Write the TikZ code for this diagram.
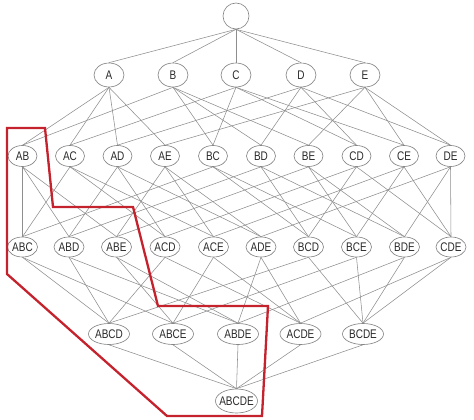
\documentclass[tikz,border=0pt]{standalone}
\usepackage{fontspec}
\newfontfamily\nodefont[FakeStretch=0.8]{Liberation Sans}
\usetikzlibrary{shapes.geometric}
\definecolor{edgegray}{HTML}{8E8E8E}
\definecolor{bordergray}{HTML}{858585}
\definecolor{txtgray}{HTML}{2A2A2A}
\definecolor{cutred}{HTML}{C4222C}
\newcommand{\nlab}[1]{\makebox[0pt]{\raisebox{-0.5\height}[0pt][0pt]{#1}}}
\begin{document}
\begin{tikzpicture}[x=1pt,y=-1pt,
  setnode/.style={ellipse,draw=bordergray,line width=0.65pt,inner sep=0pt,
    text=txtgray,font=\nodefont\fontsize{12.5}{13}\selectfont},
  lone/.style={setnode,minimum width=30pt,minimum height=24pt},
  ltwo/.style={setnode,minimum width=29pt,minimum height=21pt},
  lthree/.style={setnode,minimum width=30pt,minimum height=20pt},
  lfour/.style={setnode,minimum width=41pt,minimum height=21pt},
  lfive/.style={setnode,minimum width=42pt,minimum height=24pt},
  link/.style={draw=edgegray,line width=0.55pt},
  cut/.style={draw=cutred,line width=2.3pt,line join=miter}]
\useasboundingbox (0,0) rectangle (474,420);
% top
\node[circle,draw=bordergray,line width=0.65pt,minimum size=26pt,inner sep=0pt] (top) at (236,16) {};
% level 1
\node[lone] (A) at (109,75) {\nlab{A}};
\node[lone] (B) at (173,75) {\nlab{B}};
\node[lone] (C) at (236,75) {\nlab{C}};
\node[lone] (D) at (301,75) {\nlab{D}};
\node[lone] (E) at (365,75) {\nlab{E}};
% level 2
\node[ltwo] (AB) at (22.5,156) {\nlab{AB}};
\node[ltwo] (AC) at (70,156) {\nlab{AC}};
\node[ltwo] (AD) at (117.5,156) {\nlab{AD}};
\node[ltwo] (AE) at (165,156) {\nlab{AE}};
\node[ltwo] (BC) at (213,156) {\nlab{BC}};
\node[ltwo] (BD) at (261,156) {\nlab{BD}};
\node[ltwo] (BE) at (308.5,156) {\nlab{BE}};
\node[ltwo] (CD) at (356.5,156) {\nlab{CD}};
\node[ltwo] (CE) at (404,156) {\nlab{CE}};
\node[ltwo] (DE) at (450.5,156) {\nlab{DE}};
% level 3
\node[lthree] (ABC) at (22.5,247) {\nlab{ABC}};
\node[lthree] (ABD) at (69,247) {\nlab{ABD}};
\node[lthree] (ABE) at (116.5,247) {\nlab{ABE}};
\node[lthree] (ACD) at (165,247) {\nlab{ACD}};
\node[lthree] (ACE) at (213.5,247) {\nlab{ACE}};
\node[lthree] (ADE) at (261,247) {\nlab{ADE}};
\node[lthree] (BCD) at (308.5,247) {\nlab{BCD}};
\node[lthree] (BCE) at (356.5,247) {\nlab{BCE}};
\node[lthree] (BDE) at (404.5,247) {\nlab{BDE}};
\node[lthree] (CDE) at (451,247) {\nlab{CDE}};
% level 4
\node[lfour] (ABCD) at (109,334) {\nlab{ABCD}};
\node[lfour] (ABCE) at (173,334) {\nlab{ABCE}};
\node[lfour] (ABDE) at (238,334) {\nlab{ABDE}};
\node[lfour] (ACDE) at (300.5,334) {\nlab{ACDE}};
\node[lfour] (BCDE) at (363,334) {\nlab{BCDE}};
% level 5
\node[lfive] (ABCDE) at (236.5,401) {\nlab{ABCDE}};
% edges
\foreach \p/\cs in {top/{A,B,C,D,E},
  A/{AB,AC,AD,AE}, B/{AB,BC,BD,BE}, C/{AC,BC,CD,CE}, D/{AD,BD,CD,DE}, E/{AE,BE,CE,DE},
  AB/{ABC,ABD,ABE}, AC/{ABC,ACD,ACE}, AD/{ABD,ACD,ADE}, AE/{ABE,ACE,ADE},
  BC/{ABC,BCD,BCE}, BD/{ABD,BCD,BDE}, BE/{ABE,BCE,BDE},
  CD/{ACD,BCD,CDE}, CE/{ACE,BCE,CDE}, DE/{ADE,BDE,CDE},
  ABC/{ABCD,ABCE}, ABD/{ABCD,ABDE}, ABE/{ABCE,ABDE}, ACD/{ABCD,ACDE},
  ACE/{ABCE,ACDE}, ADE/{ABDE,ACDE}, BCD/{ABCD,BCDE}, BCE/{ABCE,BCDE},
  BDE/{ABDE,BCDE}, CDE/{ACDE,BCDE},
  ABCD/{ABCDE}, ABCE/{ABCDE}, ABDE/{ABCDE}, ACDE/{ABCDE}, BCDE/{ABCDE}}
  {\foreach \c in \cs {\draw[link] (\p.south) -- (\c.north);}}
% red border
\draw[cut] (7,128) -- (45,128) -- (53,207) -- (133,207) -- (158,306) -- (268,306)
  -- (262,416) -- (167,416) -- (7,274) -- cycle;
\end{tikzpicture}
\end{document}
